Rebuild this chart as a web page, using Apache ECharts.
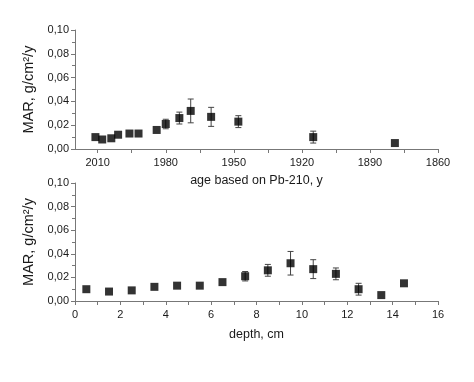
<!DOCTYPE html>
<html>
<head>
<meta charset="utf-8">
<script src="https://cdn.jsdelivr.net/npm/echarts@6/dist/echarts.min.js"></script>
<style>html,body{margin:0;padding:0;background:#fff}#c{width:474px;height:382px}</style>
</head>
<body>
<div id="c"></div>
<script>
const ages = [2011, 2008, 2004, 2001, 1996, 1992, 1984, 1980, 1974, 1969, 1960, 1948, 1915, 1879];
const depths = [0.5, 1.5, 2.5, 3.5, 4.5, 5.5, 6.5, 7.5, 8.5, 9.5, 10.5, 11.5, 12.5, 13.5, 14.5];
const mar = [0.010, 0.008, 0.009, 0.012, 0.013, 0.013, 0.016, 0.021, 0.026, 0.032, 0.027, 0.023, 0.010, 0.005, 0.015];
const marErr = [0, 0, 0, 0, 0, 0, 0, 0.004, 0.005, 0.010, 0.008, 0.005, 0.005, 0, 0];
const yTicks = ['0,00', '0,02', '0,04', '0,06', '0,08', '0,10'];

const FONT = '"Liberation Sans", Arial, sans-serif';
const TXT = '#1a1a1a';
const AX = '#777';

const agePts = ages.map((a, i) => [a, mar[i]]);
const depthPts = depths.map((d, i) => [d, mar[i]]);
const ageErr = ages.map((a, i) => [a, mar[i] - marErr[i], mar[i] + marErr[i]]).filter((d, i) => marErr[i] > 0);
const depthErr = depths.map((d, i) => [d, mar[i] - marErr[i], mar[i] + marErr[i]]).filter((d, i) => marErr[i] > 0);

function errRender(params, api) {
  const x = api.value(0), lo = api.value(1), hi = api.value(2);
  const p1 = api.coord([x, lo]), p2 = api.coord([x, hi]);
  const w = 3;
  const st = { stroke: '#444', lineWidth: 1 };
  return {
    type: 'group',
    children: [
      { type: 'line', shape: { x1: p1[0], y1: p1[1], x2: p2[0], y2: p2[1] }, style: st },
      { type: 'line', shape: { x1: p1[0] - w, y1: p1[1], x2: p1[0] + w, y2: p1[1] }, style: st },
      { type: 'line', shape: { x1: p2[0] - w, y1: p2[1], x2: p2[0] + w, y2: p2[1] }, style: st }
    ]
  };
}

function yAxis(gi) {
  return {
    gridIndex: gi, type: 'value', min: 0, max: 0.10, interval: 0.02,
    name: 'MAR, g/cm²/y', nameLocation: 'middle', nameGap: 29,
    nameTextStyle: { fontFamily: FONT, fontSize: 14.5, color: TXT },
    axisLine: { show: true, lineStyle: { color: AX } },
    axisTick: { show: true, inside: false, length: 4, lineStyle: { color: AX } },
    minorTick: { show: true, splitNumber: 2, length: 3, lineStyle: { color: AX } },
    splitLine: { show: false },
    axisLabel: { fontFamily: FONT, fontSize: 11, color: TXT, margin: 6,
      formatter: v => yTicks[Math.round(v / 0.02)] }
  };
}

const option = {
  animation: false,
  grid: [
    { left: 75, top: 30, width: 363, height: 119 },
    { left: 75, top: 183, width: 363, height: 118 }
  ],
  xAxis: [
    {
      gridIndex: 0, type: 'value', min: 1860, max: 2020, interval: 15, inverse: true,
      name: 'age based on Pb-210, y', nameLocation: 'middle', nameGap: 25,
      nameTextStyle: { fontFamily: FONT, fontSize: 12.5, color: TXT },
      axisLine: { show: true, onZero: false, lineStyle: { color: AX } },
      axisTick: { show: true, length: 4, lineStyle: { color: AX } },
      splitLine: { show: false },
      axisLabel: { fontFamily: FONT, fontSize: 11, color: TXT, margin: 8, showMaxLabel: false,
        formatter: v => ((v - 1860) % 30 === 0 && v <= 2010) ? String(v) : '' }
    },
    {
      gridIndex: 1, type: 'value', min: 0, max: 16, interval: 2,
      name: 'depth, cm', nameLocation: 'middle', nameGap: 27,
      nameTextStyle: { fontFamily: FONT, fontSize: 12.5, color: TXT },
      axisLine: { show: true, onZero: false, lineStyle: { color: AX } },
      axisTick: { show: true, length: 4, lineStyle: { color: AX } },
      minorTick: { show: true, splitNumber: 2, length: 4, lineStyle: { color: AX } },
      splitLine: { show: false },
      axisLabel: { fontFamily: FONT, fontSize: 11, color: TXT, margin: 8 }
    }
  ],
  yAxis: [yAxis(0), yAxis(1)],
  series: [
    { type: 'custom', xAxisIndex: 0, yAxisIndex: 0, data: ageErr, renderItem: errRender, z: 1 },
    { type: 'scatter', xAxisIndex: 0, yAxisIndex: 0, data: agePts, symbol: 'rect', symbolSize: 8,
      itemStyle: { color: '#000' }, z: 2 },
    { type: 'custom', xAxisIndex: 1, yAxisIndex: 1, data: depthErr, renderItem: errRender, z: 1 },
    { type: 'scatter', xAxisIndex: 1, yAxisIndex: 1, data: depthPts, symbol: 'rect', symbolSize: 8,
      itemStyle: { color: '#000' }, z: 2 }
  ]
};

const chart = echarts.init(document.getElementById('c'), null, { renderer: 'canvas' });
chart.setOption(option);
</script>
</body>
</html>
